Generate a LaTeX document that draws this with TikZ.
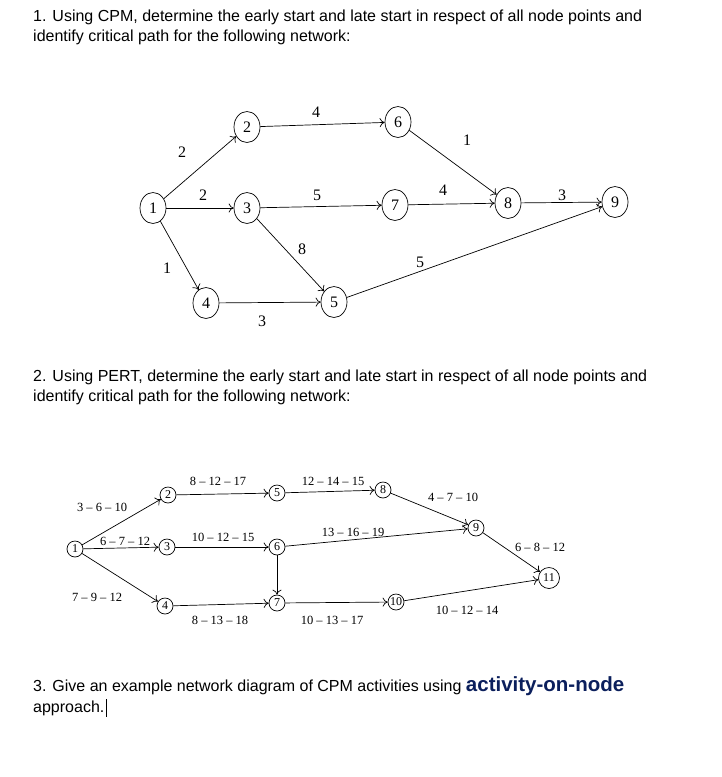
\documentclass[tikz,border=0pt]{standalone}
\usepackage{fontspec}
\setmainfont{Liberation Sans}
\newfontfamily\dfont{Liberation Serif}
\usetikzlibrary{shapes.geometric,arrows.meta}
\begin{document}
\begin{tikzpicture}[x=1pt,y=-1pt,
  txt/.style={anchor=west,inner sep=0pt,font=\fontsize{16}{18}\selectfont},
  bnode/.style={draw,line width=0.7pt,ellipse,minimum width=26pt,minimum height=31pt,inner sep=0pt,font=\dfont\fontsize{16}{16}\selectfont},
  snode/.style={draw,line width=0.7pt,circle,minimum size=16pt,inner sep=0pt,font=\dfont\fontsize{12}{12}\selectfont},
  blab/.style={font=\dfont\fontsize{16}{16}\selectfont,inner sep=0pt},
  slab/.style={font=\dfont\fontsize{12.5}{12.5}\selectfont,inner sep=0pt},
  arr/.style={-{To[length=5pt,width=9pt]},line width=0.7pt}]
\useasboundingbox (0,0) rectangle (721,777);
\node[txt] (t1) at (33,17) {1. Using CPM, determine the early start and late start in respect of all node points and};
\node[txt] (t2) at (33,37) {identify critical path for the following network:};
\node[txt] (t3) at (33,377) {2. Using PERT, determine the early start and late start in respect of all node points and};
\node[txt] (t4) at (33,397) {identify critical path for the following network:};
\node[txt] (t5) at (33,686) {3. Give an example network diagram of CPM activities using {\fontsize{20.5}{22}\selectfont\bfseries\color[HTML]{0B1F5C}activity-on-node}};
\node[txt] (t6) at (33,708) {approach.};
\draw[thin] (t6.east)+(2,-9) -- +(2,9);
% network 1
\node[bnode] (a1) at (153,208) {1};
\node[bnode] (a2) at (247,127) {2};
\node[bnode] (a3) at (247,208) {3};
\node[bnode] (a4) at (206,303) {4};
\node[bnode] (a5) at (334,302) {5};
\node[bnode] (a6) at (398,122) {6};
\node[bnode] (a7) at (395,205) {7};
\node[bnode] (a8) at (508,203) {8};
\node[bnode] (a9) at (615,202) {9};
\draw[arr] (a1) -- (a2);
\draw[arr] (a1) -- (a3);
\draw[arr] (a1) -- (a4);
\draw[arr] (a2) -- (a6);
\draw[arr] (a3) -- (a7);
\draw[arr] (a3) -- (a5);
\draw[arr] (a4) -- (a5);
\draw[arr] (a6) -- (a8);
\draw[arr] (a7) -- (a8);
\draw[arr] (a8) -- (a9);
\draw[arr] (a5) -- (a9);
\node[blab] (l12) at (182,152) {2};
\node[blab] (l13) at (203,195) {2};
\node[blab] (l14) at (167,268) {1};
\node[blab] (l26) at (316,112) {4};
\node[blab] (l37) at (317,195) {5};
\node[blab] (l35) at (302,249) {8};
\node[blab] (l45) at (262,321) {3};
\node[blab] (l68) at (467,140) {1};
\node[blab] (l78) at (443,190) {4};
\node[blab] (l89) at (562,195) {3};
\node[blab] (l59) at (420,262) {5};
% network 2
\node[snode] (b1) at (75,549) {1};
\node[snode] (b2) at (168,495) {2};
\node[snode] (b3) at (167,547) {3};
\node[snode] (b4) at (165,606) {4};
\node[snode] (b5) at (277,493) {5};
\node[snode] (b6) at (277,547) {6};
\node[snode] (b7) at (277,603) {7};
\node[snode] (b8) at (383,490) {8};
\node[snode] (b9) at (476,528) {9};
\node[snode] (b10) at (396,602) {10};
\node[snode,minimum size=21pt] (b11) at (549,578) {11};
\draw[arr] (b1) -- (b2);
\draw[arr] (b1) -- (b3);
\draw[arr] (b1) -- (b4);
\draw[arr] (b2) -- (b5);
\draw[arr] (b5) -- (b8);
\draw[arr] (b8) -- (b9);
\draw[arr] (b3) -- (b6);
\draw[arr] (b6) -- (b9);
\draw[arr] (b6) -- (b7);
\draw[arr] (b4) -- (b7);
\draw[arr] (b7) -- (b10);
\draw[arr] (b10) -- (b11);
\draw[arr] (b9) -- (b11);
\node[slab] (m12) at (102,507) {3 – 6 – 10};
\node[slab] (m13) at (125,541) {6 – 7 – 12};
\node[slab] (m14) at (97,597) {7 – 9 – 12};
\node[slab] (m25) at (218,481) {8 – 12 – 17};
\node[slab] (m58) at (333,481) {12 – 14 – 15};
\node[slab] (m89) at (453,497) {4 – 7 – 10};
\node[slab] (m36) at (223,537) {10 – 12 – 15};
\node[slab] (m69) at (353,532) {13 – 16 – 19};
\node[slab] (m911) at (540,547) {6 – 8 – 12};
\node[slab] (m47) at (220,620) {8 – 13 – 18};
\node[slab] (m710) at (332,620) {10 – 13 – 17};
\node[slab] (m1011) at (467,610) {10 – 12 – 14};
\end{tikzpicture}
\end{document}
